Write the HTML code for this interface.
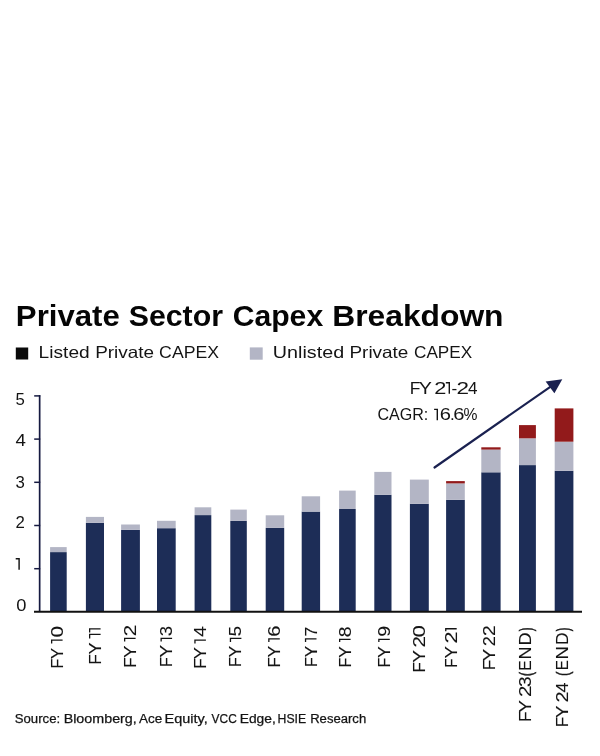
<!DOCTYPE html>
<html><head><meta charset="utf-8"><title>Private Sector Capex Breakdown</title>
<style>
html,body{margin:0;padding:0;background:#fff;}
body{width:600px;height:756px;overflow:hidden;}
svg{display:block;font-family:"Liberation Sans", sans-serif;will-change:transform;}
</style></head><body>
<svg width="600" height="756" viewBox="0 0 600 756">
<rect width="600" height="756" fill="#ffffff"/>
<rect x="50.1" y="552.1" width="16.6" height="58.9" fill="#1d2d57"/>
<rect x="50.1" y="547.1" width="16.6" height="5" fill="#b3b5c5"/>
<rect x="85.9" y="522.8" width="18.1" height="88.2" fill="#1d2d57"/>
<rect x="85.9" y="516.9" width="18.1" height="5.9" fill="#b3b5c5"/>
<rect x="121.1" y="529.8" width="18.8" height="81.2" fill="#1d2d57"/>
<rect x="121.1" y="524.5" width="18.8" height="5.3" fill="#b3b5c5"/>
<rect x="157" y="528.2" width="18.7" height="82.8" fill="#1d2d57"/>
<rect x="157" y="520.8" width="18.7" height="7.4" fill="#b3b5c5"/>
<rect x="194.6" y="515.1" width="16.7" height="95.9" fill="#1d2d57"/>
<rect x="194.6" y="507.3" width="16.7" height="7.8" fill="#b3b5c5"/>
<rect x="230.3" y="520.9" width="16.5" height="90.1" fill="#1d2d57"/>
<rect x="230.3" y="509.6" width="16.5" height="11.3" fill="#b3b5c5"/>
<rect x="265.7" y="527.9" width="18.5" height="83.1" fill="#1d2d57"/>
<rect x="265.7" y="515.3" width="18.5" height="12.6" fill="#b3b5c5"/>
<rect x="301.7" y="511.6" width="18.4" height="99.4" fill="#1d2d57"/>
<rect x="301.7" y="496.3" width="18.4" height="15.3" fill="#b3b5c5"/>
<rect x="339.1" y="509" width="16.6" height="102" fill="#1d2d57"/>
<rect x="339.1" y="490.6" width="16.6" height="18.4" fill="#b3b5c5"/>
<rect x="374.3" y="494.8" width="17.2" height="116.2" fill="#1d2d57"/>
<rect x="374.3" y="471.9" width="17.2" height="22.9" fill="#b3b5c5"/>
<rect x="409.9" y="503.8" width="18.9" height="107.2" fill="#1d2d57"/>
<rect x="409.9" y="479.6" width="18.9" height="24.2" fill="#b3b5c5"/>
<rect x="446.1" y="499.8" width="18.7" height="111.2" fill="#1d2d57"/>
<rect x="446.1" y="483.4" width="18.7" height="16.4" fill="#b3b5c5"/>
<rect x="446.1" y="481.1" width="18.7" height="2.3" fill="#921a1b"/>
<rect x="481.3" y="472.3" width="19.3" height="138.7" fill="#1d2d57"/>
<rect x="481.3" y="449.6" width="19.3" height="22.7" fill="#b3b5c5"/>
<rect x="481.3" y="447.3" width="19.3" height="2.3" fill="#921a1b"/>
<rect x="519" y="465.1" width="16.9" height="145.9" fill="#1d2d57"/>
<rect x="519" y="438.3" width="16.9" height="26.8" fill="#b3b5c5"/>
<rect x="519" y="425.1" width="16.9" height="13.2" fill="#921a1b"/>
<rect x="554.7" y="470.8" width="18.7" height="140.2" fill="#1d2d57"/>
<rect x="554.7" y="441.7" width="18.7" height="29.1" fill="#b3b5c5"/>
<rect x="554.7" y="408.4" width="18.7" height="33.3" fill="#921a1b"/>
<line x1="39.65" y1="395.1" x2="39.65" y2="611.5" stroke="#151940" stroke-width="1.7"/>
<line x1="34.2" y1="395.9" x2="40.2" y2="395.9" stroke="#151940" stroke-width="1.5"/>
<line x1="34.2" y1="439.1" x2="40.2" y2="439.1" stroke="#151940" stroke-width="1.5"/>
<line x1="34.2" y1="482.3" x2="40.2" y2="482.3" stroke="#151940" stroke-width="1.5"/>
<line x1="34.2" y1="525.5" x2="40.2" y2="525.5" stroke="#151940" stroke-width="1.5"/>
<line x1="34.2" y1="568.7" x2="40.2" y2="568.7" stroke="#151940" stroke-width="1.5"/>
<line x1="34" y1="611.7" x2="582" y2="611.7" stroke="#111111" stroke-width="2"/>
<text x="15.6" y="405.31" font-size="16.8" fill="#141414">5</text>
<text x="15.6" y="445.91" font-size="16.8" fill="#141414" textLength="10.4" lengthAdjust="spacingAndGlyphs">4</text>
<text x="15.6" y="487.51" font-size="16.8" fill="#141414">3</text>
<text x="15.6" y="528.31" font-size="16.8" fill="#141414">2</text>
<path d="M15.7 558.7 L19.1 558.7 L19.1 569.7" fill="none" stroke="#141414" stroke-width="1.45"/>
<text x="16.2" y="611.31" font-size="16.8" fill="#141414" textLength="10.2" lengthAdjust="spacingAndGlyphs">0</text>
<text transform="translate(62.6,667.4) rotate(-90)" x="-0.99" y="0" font-size="16.2" fill="#141414" stroke="#141414" stroke-width="0.08" textLength="9.77" lengthAdjust="spacingAndGlyphs">F</text>
<text transform="translate(62.6,658.2) rotate(-90)" x="-1.06" y="0" font-size="16.2" fill="#141414" stroke="#141414" stroke-width="0.08" textLength="11.41" lengthAdjust="spacingAndGlyphs">Y</text>
<path d="M51.65 643.6 L51.65 640.15 L62.6 640.15" fill="none" stroke="#141414" stroke-width="1.3"/>
<text transform="translate(62.6,636.3) rotate(-90)" x="-1.27" y="0" font-size="16.2" fill="#141414" stroke="#141414" stroke-width="0.08" textLength="11.46" lengthAdjust="spacingAndGlyphs">0</text>
<text transform="translate(100.6,663.6) rotate(-90)" x="-1.08" y="0" font-size="16.2" fill="#141414" stroke="#141414" stroke-width="0.08" textLength="10.63" lengthAdjust="spacingAndGlyphs">F</text>
<text transform="translate(100.6,653.4) rotate(-90)" x="-1.12" y="0" font-size="16.2" fill="#141414" stroke="#141414" stroke-width="0.08" textLength="12.13" lengthAdjust="spacingAndGlyphs">Y</text>
<path d="M89.65 638.5 L89.65 634.45 L100.6 634.45" fill="none" stroke="#141414" stroke-width="1.3"/>
<path d="M89.65 632.5 L89.65 628.95 L100.6 628.95" fill="none" stroke="#141414" stroke-width="1.3"/>
<text transform="translate(135.6,666.8) rotate(-90)" x="-1.05" y="0" font-size="16.2" fill="#141414" stroke="#141414" stroke-width="0.08" textLength="10.39" lengthAdjust="spacingAndGlyphs">F</text>
<text transform="translate(135.6,657) rotate(-90)" x="-1.14" y="0" font-size="16.2" fill="#141414" stroke="#141414" stroke-width="0.08" textLength="12.37" lengthAdjust="spacingAndGlyphs">Y</text>
<path d="M124.65 641.6 L124.65 638.45 L135.6 638.45" fill="none" stroke="#141414" stroke-width="1.3"/>
<text transform="translate(135.6,635.1) rotate(-90)" x="-1.27" y="0" font-size="16.2" fill="#141414" stroke="#141414" stroke-width="0.08" textLength="11.46" lengthAdjust="spacingAndGlyphs">2</text>
<text transform="translate(172.1,665.9) rotate(-90)" x="-0.99" y="0" font-size="16.2" fill="#141414" stroke="#141414" stroke-width="0.08" textLength="9.77" lengthAdjust="spacingAndGlyphs">F</text>
<text transform="translate(172.1,656.5) rotate(-90)" x="-1.19" y="0" font-size="16.2" fill="#141414" stroke="#141414" stroke-width="0.08" textLength="12.85" lengthAdjust="spacingAndGlyphs">Y</text>
<path d="M161.15 641.5 L161.15 638.45 L172.1 638.45" fill="none" stroke="#141414" stroke-width="1.3"/>
<text transform="translate(172.1,635.1) rotate(-90)" x="-1.14" y="0" font-size="16.2" fill="#141414" stroke="#141414" stroke-width="0.08" textLength="10.3" lengthAdjust="spacingAndGlyphs">3</text>
<text transform="translate(205.9,667.8) rotate(-90)" x="-1.06" y="0" font-size="16.2" fill="#141414" stroke="#141414" stroke-width="0.08" textLength="10.51" lengthAdjust="spacingAndGlyphs">F</text>
<text transform="translate(205.9,658.4) rotate(-90)" x="-1.14" y="0" font-size="16.2" fill="#141414" stroke="#141414" stroke-width="0.08" textLength="12.37" lengthAdjust="spacingAndGlyphs">Y</text>
<path d="M194.95 643.5 L194.95 640.15 L205.9 640.15" fill="none" stroke="#141414" stroke-width="1.3"/>
<text transform="translate(205.9,636.9) rotate(-90)" x="-0" y="0" font-size="16.2" fill="#141414" stroke="#141414" stroke-width="0.08" textLength="10.72" lengthAdjust="spacingAndGlyphs">4</text>
<text transform="translate(241.4,665.9) rotate(-90)" x="-0.99" y="0" font-size="16.2" fill="#141414" stroke="#141414" stroke-width="0.08" textLength="9.77" lengthAdjust="spacingAndGlyphs">F</text>
<text transform="translate(241.4,656.5) rotate(-90)" x="-1.09" y="0" font-size="16.2" fill="#141414" stroke="#141414" stroke-width="0.08" textLength="11.77" lengthAdjust="spacingAndGlyphs">Y</text>
<path d="M230.45 642 L230.45 638.45 L241.4 638.45" fill="none" stroke="#141414" stroke-width="1.3"/>
<text transform="translate(241.4,635.1) rotate(-90)" x="-1.14" y="0" font-size="16.2" fill="#141414" stroke="#141414" stroke-width="0.08" textLength="10.3" lengthAdjust="spacingAndGlyphs">5</text>
<text transform="translate(279.8,666.4) rotate(-90)" x="-1.05" y="0" font-size="16.2" fill="#141414" stroke="#141414" stroke-width="0.08" textLength="10.39" lengthAdjust="spacingAndGlyphs">F</text>
<text transform="translate(279.8,656.5) rotate(-90)" x="-1.09" y="0" font-size="16.2" fill="#141414" stroke="#141414" stroke-width="0.08" textLength="11.77" lengthAdjust="spacingAndGlyphs">Y</text>
<path d="M268.85 642 L268.85 638.95 L279.8 638.95" fill="none" stroke="#141414" stroke-width="1.3"/>
<text transform="translate(279.8,635.5) rotate(-90)" x="-1.26" y="0" font-size="16.2" fill="#141414" stroke="#141414" stroke-width="0.08" textLength="11.33" lengthAdjust="spacingAndGlyphs">6</text>
<text transform="translate(316.5,665.9) rotate(-90)" x="-0.99" y="0" font-size="16.2" fill="#141414" stroke="#141414" stroke-width="0.08" textLength="9.77" lengthAdjust="spacingAndGlyphs">F</text>
<text transform="translate(316.5,656.1) rotate(-90)" x="-1.04" y="0" font-size="16.2" fill="#141414" stroke="#141414" stroke-width="0.08" textLength="11.29" lengthAdjust="spacingAndGlyphs">Y</text>
<path d="M305.55 642 L305.55 638.95 L316.5 638.95" fill="none" stroke="#141414" stroke-width="1.3"/>
<text transform="translate(316.5,635.5) rotate(-90)" x="-1.06" y="0" font-size="16.2" fill="#141414" stroke="#141414" stroke-width="0.08" textLength="9.53" lengthAdjust="spacingAndGlyphs">7</text>
<text transform="translate(350.6,666.4) rotate(-90)" x="-1" y="0" font-size="16.2" fill="#141414" stroke="#141414" stroke-width="0.08" textLength="9.89" lengthAdjust="spacingAndGlyphs">F</text>
<text transform="translate(350.6,657) rotate(-90)" x="-1.09" y="0" font-size="16.2" fill="#141414" stroke="#141414" stroke-width="0.08" textLength="11.77" lengthAdjust="spacingAndGlyphs">Y</text>
<path d="M339.65 642 L339.65 639.45 L350.6 639.45" fill="none" stroke="#141414" stroke-width="1.3"/>
<text transform="translate(350.6,636) rotate(-90)" x="-1.2" y="0" font-size="16.2" fill="#141414" stroke="#141414" stroke-width="0.08" textLength="10.82" lengthAdjust="spacingAndGlyphs">8</text>
<text transform="translate(389.8,666.4) rotate(-90)" x="-1" y="0" font-size="16.2" fill="#141414" stroke="#141414" stroke-width="0.08" textLength="9.89" lengthAdjust="spacingAndGlyphs">F</text>
<text transform="translate(389.8,657) rotate(-90)" x="-1.09" y="0" font-size="16.2" fill="#141414" stroke="#141414" stroke-width="0.08" textLength="11.77" lengthAdjust="spacingAndGlyphs">Y</text>
<path d="M378.85 642 L378.85 639.45 L389.8 639.45" fill="none" stroke="#141414" stroke-width="1.3"/>
<text transform="translate(389.8,635.5) rotate(-90)" x="-1.2" y="0" font-size="16.2" fill="#141414" stroke="#141414" stroke-width="0.08" textLength="10.82" lengthAdjust="spacingAndGlyphs">9</text>
<text transform="translate(424.5,671.4) rotate(-90)" x="-1.05" y="0" font-size="16.2" fill="#141414" stroke="#141414" stroke-width="0.08" textLength="10.39" lengthAdjust="spacingAndGlyphs">F</text>
<text transform="translate(424.5,661.6) rotate(-90)" x="-1.18" y="0" font-size="16.2" fill="#141414" stroke="#141414" stroke-width="0.08" textLength="12.73" lengthAdjust="spacingAndGlyphs">Y</text>
<text transform="translate(424.5,646.3) rotate(-90)" x="-1.27" y="0" font-size="16.2" fill="#141414" stroke="#141414" stroke-width="0.08" textLength="11.46" lengthAdjust="spacingAndGlyphs">2</text>
<text transform="translate(424.5,636) rotate(-90)" x="-1.33" y="0" font-size="16.2" fill="#141414" stroke="#141414" stroke-width="0.08" textLength="11.98" lengthAdjust="spacingAndGlyphs">0</text>
<text transform="translate(456.7,666.8) rotate(-90)" x="-0.94" y="0" font-size="16.2" fill="#141414" stroke="#141414" stroke-width="0.08" textLength="9.27" lengthAdjust="spacingAndGlyphs">F</text>
<text transform="translate(456.7,657.5) rotate(-90)" x="-1.14" y="0" font-size="16.2" fill="#141414" stroke="#141414" stroke-width="0.08" textLength="12.37" lengthAdjust="spacingAndGlyphs">Y</text>
<text transform="translate(456.7,642.1) rotate(-90)" x="-1.34" y="0" font-size="16.2" fill="#141414" stroke="#141414" stroke-width="0.08" textLength="12.11" lengthAdjust="spacingAndGlyphs">2</text>
<path d="M445.75 631.3 L445.75 628.75 L456.7 628.75" fill="none" stroke="#141414" stroke-width="1.3"/>
<text transform="translate(494.6,669.3) rotate(-90)" x="-1.07" y="0" font-size="16.2" fill="#141414" stroke="#141414" stroke-width="0.08" textLength="10.63" lengthAdjust="spacingAndGlyphs">F</text>
<text transform="translate(494.6,660.4) rotate(-90)" x="-1.18" y="0" font-size="16.2" fill="#141414" stroke="#141414" stroke-width="0.08" textLength="12.73" lengthAdjust="spacingAndGlyphs">Y</text>
<text transform="translate(494.6,645.1) rotate(-90)" x="-1.13" y="0" font-size="16.2" fill="#141414" stroke="#141414" stroke-width="0.08" textLength="10.17" lengthAdjust="spacingAndGlyphs">2</text>
<text transform="translate(494.6,634.9) rotate(-90)" x="-1.19" y="0" font-size="16.2" fill="#141414" stroke="#141414" stroke-width="0.08" textLength="10.69" lengthAdjust="spacingAndGlyphs">2</text>
<text transform="translate(530.9,721) rotate(-90)" x="-1.08" y="0" font-size="16.2" fill="#141414" stroke="#141414" stroke-width="0.08" textLength="10.63" lengthAdjust="spacingAndGlyphs">F</text>
<text transform="translate(530.9,711.7) rotate(-90)" x="-1.19" y="0" font-size="16.2" fill="#141414" stroke="#141414" stroke-width="0.08" textLength="12.85" lengthAdjust="spacingAndGlyphs">Y</text>
<text transform="translate(530.9,695.8) rotate(-90)" x="-1.27" y="0" font-size="16.2" fill="#141414" stroke="#141414" stroke-width="0.08" textLength="11.46" lengthAdjust="spacingAndGlyphs">2</text>
<text transform="translate(530.9,685.8) rotate(-90)" x="-1.17" y="0" font-size="16.2" fill="#141414" stroke="#141414" stroke-width="0.08" textLength="10.56" lengthAdjust="spacingAndGlyphs">3</text>
<text transform="translate(532.2,675.4) rotate(-90)" x="-0.66" y="0" font-size="18.0" fill="#141414" stroke="#141414" stroke-width="0.55" textLength="3.96" lengthAdjust="spacingAndGlyphs">(</text>
<text transform="translate(530.9,669.8) rotate(-90)" x="-0.96" y="0" font-size="16.2" fill="#141414" stroke="#141414" stroke-width="0.08" textLength="10.33" lengthAdjust="spacingAndGlyphs">E</text>
<text transform="translate(530.9,658.5) rotate(-90)" x="-1.11" y="0" font-size="16.2" fill="#141414" stroke="#141414" stroke-width="0.08" textLength="13" lengthAdjust="spacingAndGlyphs">N</text>
<text transform="translate(530.9,644.4) rotate(-90)" x="-1.11" y="0" font-size="16.2" fill="#141414" stroke="#141414" stroke-width="0.08" textLength="12.99" lengthAdjust="spacingAndGlyphs">D</text>
<text transform="translate(532.2,631.3) rotate(-90)" x="-0" y="0" font-size="18.0" fill="#141414" stroke="#141414" stroke-width="0.55" textLength="3.72" lengthAdjust="spacingAndGlyphs">)</text>
<text transform="translate(568.1,726.1) rotate(-90)" x="-1.06" y="0" font-size="16.2" fill="#141414" stroke="#141414" stroke-width="0.08" textLength="10.51" lengthAdjust="spacingAndGlyphs">F</text>
<text transform="translate(568.1,716.8) rotate(-90)" x="-1.16" y="0" font-size="16.2" fill="#141414" stroke="#141414" stroke-width="0.08" textLength="12.49" lengthAdjust="spacingAndGlyphs">Y</text>
<text transform="translate(568.1,701.3) rotate(-90)" x="-1.23" y="0" font-size="16.2" fill="#141414" stroke="#141414" stroke-width="0.08" textLength="11.08" lengthAdjust="spacingAndGlyphs">2</text>
<text transform="translate(568.1,692.4) rotate(-90)" x="-0" y="0" font-size="16.2" fill="#141414" stroke="#141414" stroke-width="0.08" textLength="10.02" lengthAdjust="spacingAndGlyphs">4</text>
<text transform="translate(569.4,675) rotate(-90)" x="-0.68" y="0" font-size="18.0" fill="#141414" stroke="#141414" stroke-width="0.55" textLength="4.08" lengthAdjust="spacingAndGlyphs">(</text>
<text transform="translate(568.1,669.4) rotate(-90)" x="-0.94" y="0" font-size="16.2" fill="#141414" stroke="#141414" stroke-width="0.08" textLength="10.21" lengthAdjust="spacingAndGlyphs">E</text>
<text transform="translate(568.1,658.3) rotate(-90)" x="-1.16" y="0" font-size="16.2" fill="#141414" stroke="#141414" stroke-width="0.08" textLength="13.52" lengthAdjust="spacingAndGlyphs">N</text>
<text transform="translate(568.1,643.9) rotate(-90)" x="-1.08" y="0" font-size="16.2" fill="#141414" stroke="#141414" stroke-width="0.08" textLength="12.64" lengthAdjust="spacingAndGlyphs">D</text>
<text transform="translate(569.4,631.3) rotate(-90)" x="-0" y="0" font-size="18.0" fill="#141414" stroke="#141414" stroke-width="0.55" textLength="3.6" lengthAdjust="spacingAndGlyphs">)</text>
<text x="15.85" y="325.7" font-size="29.0" font-weight="bold" fill="#050505" textLength="103.94" lengthAdjust="spacingAndGlyphs">Private</text>
<text x="128.71" y="325.7" font-size="29.0" font-weight="bold" fill="#050505" textLength="94.32" lengthAdjust="spacingAndGlyphs">Sector</text>
<text x="232.71" y="325.7" font-size="29.0" font-weight="bold" fill="#050505" textLength="90.44" lengthAdjust="spacingAndGlyphs">Capex</text>
<text x="332.31" y="325.7" font-size="29.0" font-weight="bold" fill="#050505" textLength="171.24" lengthAdjust="spacingAndGlyphs">Breakdown</text>
<text x="38.64" y="357.9" font-size="16.5" fill="#141414" textLength="51.06" lengthAdjust="spacingAndGlyphs">Listed</text>
<text x="95.15" y="357.9" font-size="16.5" fill="#141414" textLength="58.86" lengthAdjust="spacingAndGlyphs">Private</text>
<text x="159.13" y="357.9" font-size="16.5" fill="#141414" textLength="59.87" lengthAdjust="spacingAndGlyphs">CAPEX</text>
<text x="272.8" y="357.9" font-size="16.5" fill="#141414" textLength="71.34" lengthAdjust="spacingAndGlyphs">Unlisted</text>
<text x="349.45" y="357.9" font-size="16.5" fill="#141414" textLength="58.96" lengthAdjust="spacingAndGlyphs">Private</text>
<text x="414.06" y="357.9" font-size="16.5" fill="#141414" textLength="58.11" lengthAdjust="spacingAndGlyphs">CAPEX</text>
<text x="409.74" y="393.8" font-size="16.4" fill="#141414" textLength="10.64" lengthAdjust="spacingAndGlyphs">F</text>
<text x="418.7" y="393.8" font-size="16.4" fill="#141414" textLength="13.13" lengthAdjust="spacingAndGlyphs">Y</text>
<text x="434.37" y="393.8" font-size="16.4" fill="#141414" textLength="12.12" lengthAdjust="spacingAndGlyphs">2</text>
<path d="M445.8 382.76 L449.3 382.76 L449.3 393.8" fill="none" stroke="#141414" stroke-width="1.4"/>
<text x="451.45" y="393.8" font-size="16.4" fill="#141414" textLength="5.74" lengthAdjust="spacingAndGlyphs">-</text>
<text x="456.53" y="393.8" font-size="16.4" fill="#141414" textLength="12.51" lengthAdjust="spacingAndGlyphs">2</text>
<text x="467.9" y="393.8" font-size="16.4" fill="#141414" textLength="9.53" lengthAdjust="spacingAndGlyphs">4</text>
<text x="377.41" y="420.3" font-size="16.2" fill="#141414" textLength="50.86" lengthAdjust="spacingAndGlyphs">CAGR:</text>
<path d="M434.1 409.4 L437.3 409.4 L437.3 420.3" fill="none" stroke="#141414" stroke-width="1.4"/>
<text x="439.76" y="420.3" font-size="16.2" fill="#141414" textLength="11.21" lengthAdjust="spacingAndGlyphs">6</text>
<text x="449.95" y="420.3" font-size="16.2" fill="#141414" textLength="4.73" lengthAdjust="spacingAndGlyphs">.</text>
<text x="453.16" y="420.3" font-size="16.2" fill="#141414" textLength="11.21" lengthAdjust="spacingAndGlyphs">6</text>
<text x="463.43" y="420.3" font-size="16.2" fill="#141414" textLength="13.96" lengthAdjust="spacingAndGlyphs">%</text>
<text x="14.75" y="722.6" font-size="12.5" stroke="#141414" stroke-width="0.25" fill="#141414" textLength="45.41" lengthAdjust="spacingAndGlyphs">Source:</text>
<text x="63.66" y="722.6" font-size="12.5" stroke="#141414" stroke-width="0.25" fill="#141414" textLength="73.12" lengthAdjust="spacingAndGlyphs">Bloomberg,</text>
<text x="139.1" y="722.6" font-size="12.5" stroke="#141414" stroke-width="0.25" fill="#141414" textLength="23.19" lengthAdjust="spacingAndGlyphs">Ace</text>
<text x="164.54" y="722.6" font-size="12.5" stroke="#141414" stroke-width="0.25" fill="#141414" textLength="43.16" lengthAdjust="spacingAndGlyphs">Equity,</text>
<text x="211.6" y="722.6" font-size="12.5" stroke="#141414" stroke-width="0.25" fill="#141414" textLength="25.14" lengthAdjust="spacingAndGlyphs">VCC</text>
<text x="239.7" y="722.6" font-size="12.5" stroke="#141414" stroke-width="0.25" fill="#141414" textLength="36.04" lengthAdjust="spacingAndGlyphs">Edge,</text>
<text x="277.62" y="722.6" font-size="12.5" stroke="#141414" stroke-width="0.25" fill="#141414" textLength="28.56" lengthAdjust="spacingAndGlyphs">HSIE</text>
<text x="310.15" y="722.6" font-size="12.5" stroke="#141414" stroke-width="0.25" fill="#141414" textLength="56.07" lengthAdjust="spacingAndGlyphs">Research</text>
<line x1="434.5" y1="467.5" x2="551" y2="386.3" stroke="#1a2150" stroke-width="2.15" stroke-linecap="round"/>
<polygon points="562.3,379.2 545.6,381.6 554.4,393.3" fill="#1a2150"/>
<rect x="15.8" y="347.5" width="12.4" height="12" fill="#0a0a0a"/>
<rect x="249.8" y="347.4" width="12.9" height="12.3" fill="#b3b5c5"/>
</svg>
</body></html>
